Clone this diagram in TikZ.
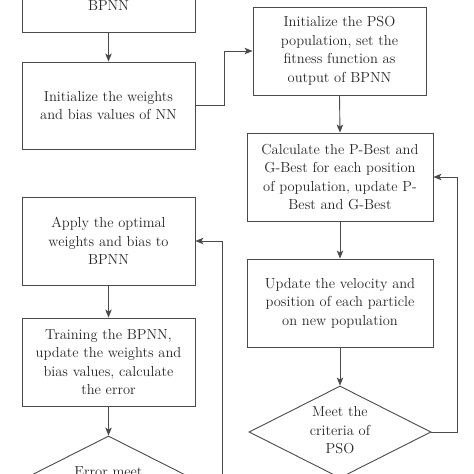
\documentclass[tikz,border=0pt]{standalone}
\usetikzlibrary{shapes.geometric,arrows.meta}
\definecolor{ln}{HTML}{4A4A4A}
\definecolor{tx}{HTML}{262626}
\begin{document}
\begin{tikzpicture}[x=1pt,y=-1pt,
  every node/.style={font=\fontsize{14.5}{18.5}\selectfont, text=tx},
  box/.style={draw=ln, line width=0.9pt, inner sep=0pt, align=center, minimum width=173pt, minimum height=88pt},
  wbox/.style={box, minimum width=186pt},
  dia/.style={draw=ln, line width=0.9pt, diamond, inner sep=0pt, minimum width=182pt, minimum height=92pt},
  lbl/.style={align=center, inner sep=0pt},
  arr/.style={draw=ln, line width=0.9pt, -{Stealth[length=8pt,width=6.5pt,inset=2pt]}}]
\useasboundingbox (0,0) rectangle (474,474);
\clip (0,0) rectangle (474,474);
\fill[white] (0,0) rectangle (474,474);
% left column
\node[box] (b1) at (108.5,-12) {};
\node[lbl] (b1t) at (108.5,6) {BPNN};
\node[box, minimum height=87pt] (b2) at (108.5,105.5) {Initialize the weights\\and bias values of NN};
\node[box] (b6) at (108.5,241) {Apply the optimal\\weights and bias to\\BPNN};
\node[box] (b7) at (108.5,362) {Training the BPNN,\\update the weights and\\bias values, calculate\\the error};
\node[dia] (d2) at (108.5,482) {};
\node[lbl] (d2t) at (108.5,472) {Error meet};
% right column
\node[box] (b3) at (339.5,51) {Initialize the PSO\\population, set the\\fitness function as\\output of BPNN};
\node[wbox] (b4) at (340,177) {Calculate the P-Best and\\G-Best for each position\\of population, update P-\\Best and G-Best};
\node[wbox] (b5) at (340,303) {Update the velocity and\\position of each particle\\on new population};
\node[dia] (d1) at (340,432) {};
\node[lbl] (d1t) at (340,430.5) {Meet the\\criteria of\\PSO};
\coordinate (fb) at (222,490);
% connectors
\draw[arr] (b1.south) -- (b2.north);
\draw[arr] (b2.east) -- ++(29,0) |- (b3.west);
\draw[arr] (b3.south) -- (b4.north);
\draw[arr] (b4.south) -- (b5.north);
\draw[arr] (b5.south) -- (d1.north);
\draw[arr] (d1.east) -- ++(26,0) |- (b4.east);
\draw[arr] (fb) |- (b6.east);
\draw[arr] (b6.south) -- (b7.north);
\draw[arr] (b7.south) -- (d2.north);
\end{tikzpicture}
\end{document}
